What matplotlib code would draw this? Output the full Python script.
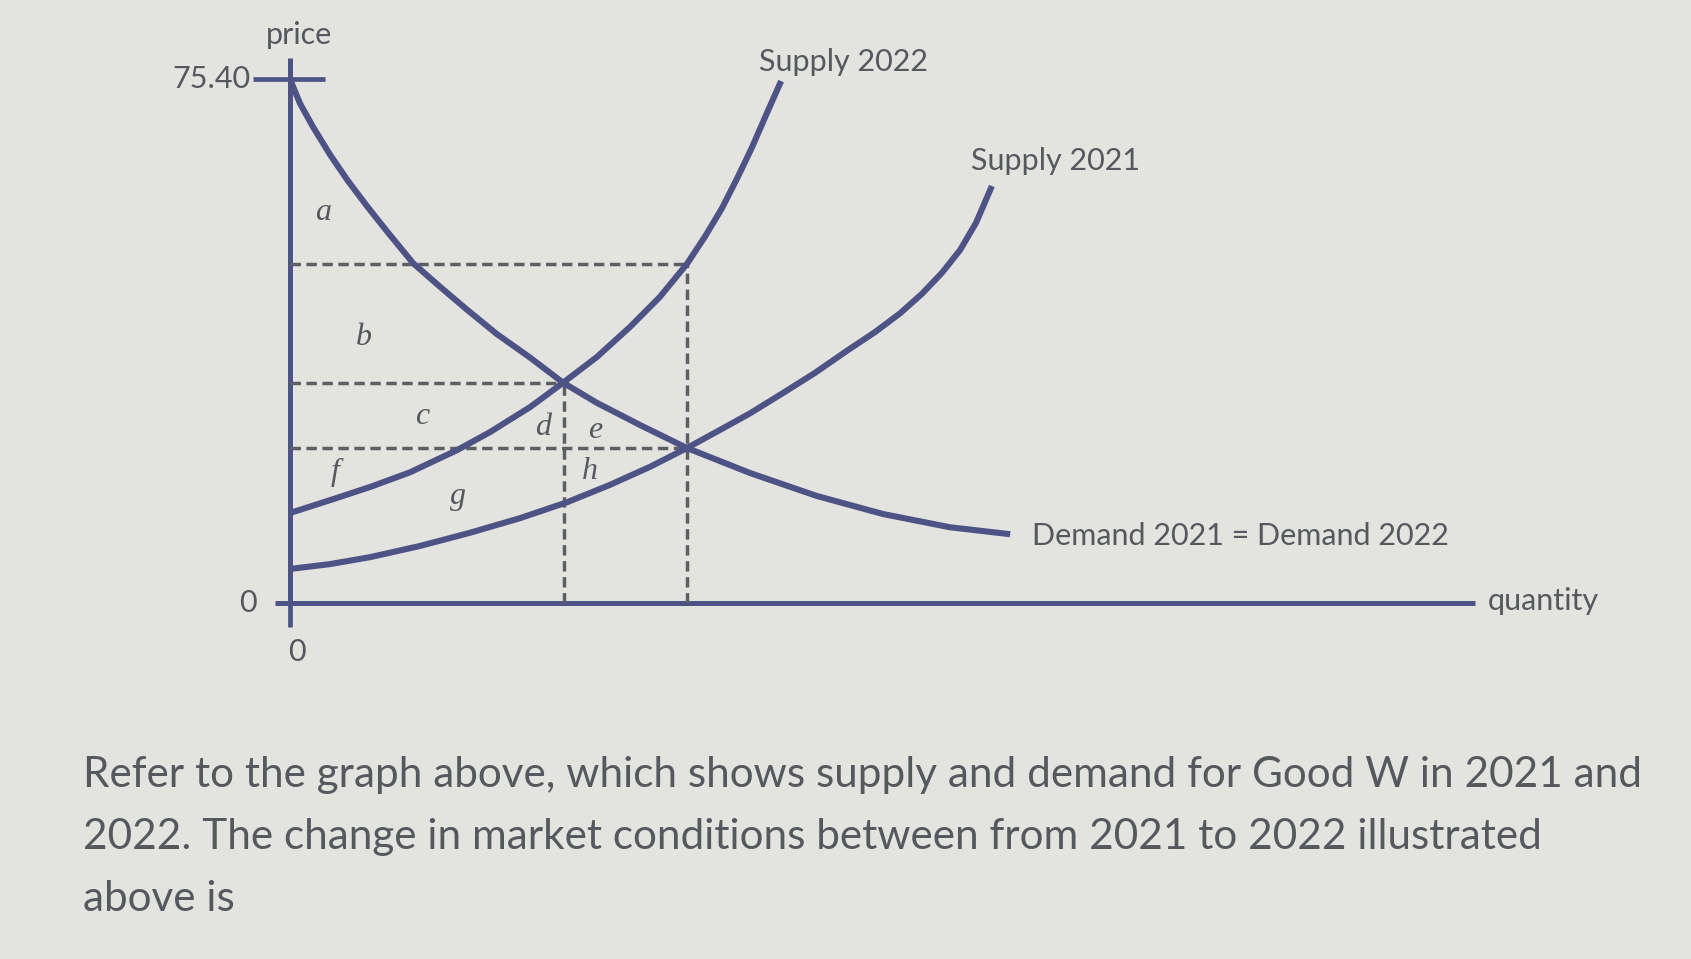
import matplotlib
matplotlib.use("Agg")
import matplotlib.pyplot as plt

# --- data (quantity, price) ---
p_top = 75.40
q_old, q_new = 69, 100          # equilibrium quantities (2022, 2021)
p_high, p_new, p_old = 48.8, 31.7, 22.3

demand_q = [0, 2.5, 5.8, 10.1, 14.4, 19.4, 24.4, 31.0, 37.8, 44.6, 52.1, 60.5,
            68.8, 77.3, 88.2, 100, 115.9, 132.7, 149.4, 166.2, 181.4]
demand_p = [75.4, 71.9, 68.5, 64.5, 60.9, 57.1, 53.5, 48.9, 45.5, 42.2, 38.7, 35.3,
            31.7, 28.8, 25.6, 22.3, 18.7, 15.4, 12.8, 10.9, 9.9]

supply22_q = [0, 10.1, 20.2, 30.2, 42.1, 50.4, 60.5, 68.8, 77.3, 85.6, 93.1, 100,
              104.5, 108.8, 112.8, 116.4, 119.9, 123.7]
supply22_p = [12.95, 14.8, 16.7, 18.8, 22.0, 24.6, 28.2, 31.7, 35.4, 39.7, 44.0, 48.8,
              52.7, 56.8, 61.3, 65.6, 70.2, 75.1]

supply21_q = [0, 10.1, 20.2, 32.7, 45.3, 57.9, 69.8, 80.6, 90.7, 100, 108.3, 115.9,
              124.7, 132.2, 140.3, 147.4, 153.7, 159.2, 164.2, 168.8, 172.8, 176.8]
supply21_p = [4.9, 5.6, 6.6, 8.2, 10.1, 12.2, 14.5, 17.0, 19.6, 22.3, 24.9, 27.3,
              30.4, 33.1, 36.3, 39.0, 41.7, 44.5, 47.5, 50.8, 54.7, 60.0]

area_labels = ["a", "b", "c", "d", "e", "f", "g", "h"]
area_q = [8.3, 18.6, 33.2, 63.7, 76.8, 11.4, 42.3, 75.6]
area_p = [56.2, 38.2, 26.8, 25.3, 24.8, 18.8, 15.3, 18.9]

question = ["Refer to the graph above, which shows supply and demand for Good W in 2021 and",
            "2022. The change in market conditions between from 2021 to 2022 illustrated",
            "above is"]

# --- styles ---
BG = "#e3e3e0"
CURVE = "#4e5386"
DASH = "#5b6065"
TXT = "#55595e"
W, H = 1691, 959

fig = plt.figure(figsize=(W / 100, H / 100), dpi=100)
fig.patch.set_facecolor(BG)
# plot box in pixels: origin (290, 603), x end 1475, price top at 79
ax = fig.add_axes([290 / W, (H - 603) / H, (1475 - 290) / W, (603 - 79) / H])
ax.set_facecolor("none")
q_max = (1475 - 290) / 3.97
ax.set_xlim(0, q_max)
ax.set_ylim(0, p_top)
ax.axis("off")

# axes and ticks
ax.plot([0, 0], [-0.2, 78.4], color=CURVE, lw=3.6, clip_on=False, solid_capstyle="butt")
ax.plot([-3.8, q_max], [0, 0], color=CURVE, lw=3.6, clip_on=False, solid_capstyle="butt")
ax.plot([-9.3, 8.8], [p_top, p_top], color=CURVE, lw=3.4, clip_on=False, solid_capstyle="butt")
ax.plot([0, 0], [0, -3.5], color=CURVE, lw=3.4, clip_on=False, solid_capstyle="butt")

# dashed guides
dash = dict(color=DASH, lw=2.5, dashes=(3.0, 1.6), clip_on=False)
ax.plot([0, q_new], [p_high, p_high], **dash)
ax.plot([0, q_old], [p_new, p_new], **dash)
ax.plot([0, q_new], [p_old, p_old], **dash)
ax.plot([q_old, q_old], [0, p_new], **dash)
ax.plot([q_new, q_new], [0, p_high], **dash)

# curves
curve = dict(color=CURVE, lw=4.4, solid_capstyle="butt", solid_joinstyle="round", clip_on=False)
ax.plot(demand_q, demand_p, **curve)
ax.plot(supply22_q, supply22_p, **curve)
ax.plot(supply21_q, supply21_p, **curve)

# labels
lab = dict(color=TXT, family="Lato", fontsize=22, clip_on=False)
ax.text(2.3, 81.7, "price", ha="center", va="center", **lab)
ax.text(-10.0, p_top, "75.40", ha="right", va="center", **lab)
ax.text(-8.3, 0, "0", ha="right", va="center", **lab)
ax.text(1.8, -5.0, "0", ha="center", va="top", **lab)
ax.text(139.4, 77.9, "Supply 2022", ha="center", va="center", **lab)
ax.text(192.8, 63.6, "Supply 2021", ha="center", va="center", **lab)
ax.text(239.3, 9.6, "Demand 2021 = Demand 2022", ha="center", va="center", **lab)
ax.text(301.7, 0.3, "quantity", ha="left", va="center", **lab)

for s, q, p in zip(area_labels, area_q, area_p):
    ax.text(q, p, s, ha="center", va="center", color=TXT, family="Liberation Serif",
            style="italic", fontsize=23)

for i, line in enumerate(question):
    fig.text(83 / W, 1 - (775 + 61.8 * i) / H, line, ha="left", va="center",
             color=TXT, family="Lato", fontsize=30.4)

fig.savefig("out.png", dpi=100, facecolor=BG)
